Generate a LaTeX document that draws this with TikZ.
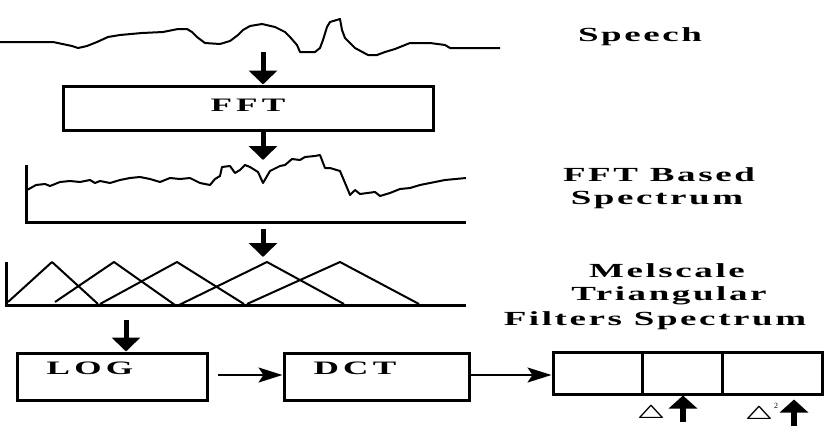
\documentclass[tikz,border=0pt]{standalone}
\usepackage{bm}
\usepackage{fontspec}
\setmainfont{Liberation Serif}
\newfontfamily\labelfont[LetterSpace=7]{Liberation Serif}
\newfontfamily\boxfont[LetterSpace=12]{Liberation Serif}
\usepackage{tikz}
\usetikzlibrary{arrows.meta,positioning}
\newcommand{\widetxt}[1]{\scalebox{1.85}[1]{#1}}

\begin{document}
\begin{tikzpicture}[x=1pt,y=-1pt,
  wave/.style={line width=2pt, line join=round},
  axis/.style={line width=3pt},
  box/.style={draw, line width=3pt, inner sep=0pt},
  cell/.style={draw, line width=3pt, inner sep=0pt, minimum height=42pt},
  boxtxt/.style={inner sep=0pt, font=\boxfont\bfseries\fontsize{19}{22}\selectfont},
  lbl/.style={inner sep=0pt, font=\labelfont\bfseries\fontsize{20}{24}\selectfont},
  bigarrow/.style={line width=5pt, -{Triangle[width=28pt,length=14pt]}},
  flow/.style={line width=2pt, -{Stealth[width=15pt,length=24pt,inset=5pt]}},
  uparrow/.style={line width=6pt, -{Triangle[width=28pt,length=13pt]}}]
\useasboundingbox (0,0) rectangle (833,437);

% speech signal
\draw[wave] plot coordinates {(0,42) (53,42) (72,46) (78,48) (87,46) (97,42) (108,37)
  (120,35) (142,33) (163,32) (178,29) (187,29) (192,32) (197,37) (205,43) (220,44)
  (230,41) (238,35) (243,30) (250,26) (262,24) (275,27) (285,32) (290,37) (297,45)
  (300,52) (315,52) (320,48) (323,40) (327,27) (330,22) (340,19) (342,30) (345,38)
  (350,43) (355,48) (368,55) (377,55) (385,52) (395,49) (405,45) (410,43) (430,43)
  (445,45) (450,48) (478,48) (500,48)};
\coordinate (speech) at (263,52);

% FFT
\node[box, minimum width=370pt, minimum height=44pt] (fft) at (248,108) {};
\node[boxtxt] (ffttxt) at (248,105) {\widetxt{FFT}};
\draw[bigarrow] (speech) -- (speech |- fft.north);

% FFT based spectrum
\draw[axis] (26,165) -- (26,222) -- (466,222);
\draw[wave] plot coordinates {(27,190) (36,185) (45,184) (50,186) (60,182) (70,181)
  (80,182) (90,180) (95,183) (100,181) (110,183) (120,180) (130,178) (140,177)
  (150,179) (160,182) (170,178) (180,179) (190,178) (200,183) (210,185) (215,179)
  (220,176) (222,167) (230,166) (235,173) (240,170) (245,165) (250,167) (258,172)
  (263,183) (270,171) (280,166) (285,165) (292,159) (300,160) (305,157) (315,156)
  (320,155) (325,168) (330,168) (340,171) (348,190) (350,195) (355,190) (360,194)
  (375,192) (380,196) (390,193) (400,189) (410,188) (420,185) (430,183) (445,180)
  (466,178)};
\coordinate (spectop) at (263,160);
\coordinate (specbot) at (263,229);
\draw[bigarrow] (spectop |- fft.south) -- (spectop);

% melscale triangular filters
\coordinate (meltop) at (263,257);
\draw[bigarrow] (specbot) -- (meltop);
\draw[axis] (6,262) -- (6,305) -- (466,305);
\draw[wave] (8,302) -- (52,262) -- (98,304);
\draw[wave] (55,302) -- (114,262) -- (175,305);
\draw[wave] (100,304) -- (177,262) -- (244,304);
\draw[wave] (177,306) -- (267,262) -- (344,304);
\draw[wave] (247,304) -- (340,262) -- (419,304);
\coordinate (melbot) at (126,320);

% LOG, DCT
\node[box, minimum width=190pt, minimum height=47pt] (log) at (112,376.5) {};
\node[boxtxt] (logtxt) at (90,368) {\widetxt{LOG}};
\node[box, minimum width=185pt, minimum height=47pt] (dct) at (376.5,376.5) {};
\node[boxtxt] (dcttxt) at (355,368) {\widetxt{DCT}};
\draw[bigarrow] (melbot) -- (melbot |- log.north);
\coordinate (flowy) at (0,375);
\draw[flow, shorten <=9pt] (flowy -| log.east) -- (flowy -| dct.west);

% feature vector
\node[cell, minimum width=89pt] (c1) at (597.5,373) {};
\node[cell, minimum width=80pt] (c2) at (682,373) {};
\node[cell, minimum width=100pt] (c3) at (772,373) {};
\draw[flow] (flowy -| dct.east) -- (flowy -| c1.west);

% deltas
\node[inner sep=0pt] (delta1) at (651,413.5) {\resizebox{28pt}{13pt}{$\bm{\triangle}$}};
\node[inner sep=0pt] (delta2) at (759,415) {\resizebox{28pt}{13pt}{$\bm{\triangle}$}};
\node[inner sep=0pt, font=\fontsize{8}{8}\selectfont] (sq) at (776,406) {2};
\coordinate (d1) at (683,422);
\coordinate (d2) at (794,426);
\draw[uparrow] (d1) -- (d1 |- c2.south);
\draw[uparrow] (d2) -- ([yshift=-4pt]d2 |- c3.south);

% labels
\node[lbl] (speechlbl) at (640,37) {\widetxt{Speech}};
\node[lbl] (fftlbl) at (659,175) {\widetxt{FFT Based}};
\node[lbl] (speclbl) at (657,200) {\widetxt{Spectrum}};
\node[lbl] (mellbl) at (667,271) {\widetxt{Melscale}};
\node[lbl] (trilbl) at (669,296) {\widetxt{Triangular}};
\node[lbl] (filtlbl) at (655,321) {\widetxt{Filters Spectrum}};
\end{tikzpicture}
\end{document}
